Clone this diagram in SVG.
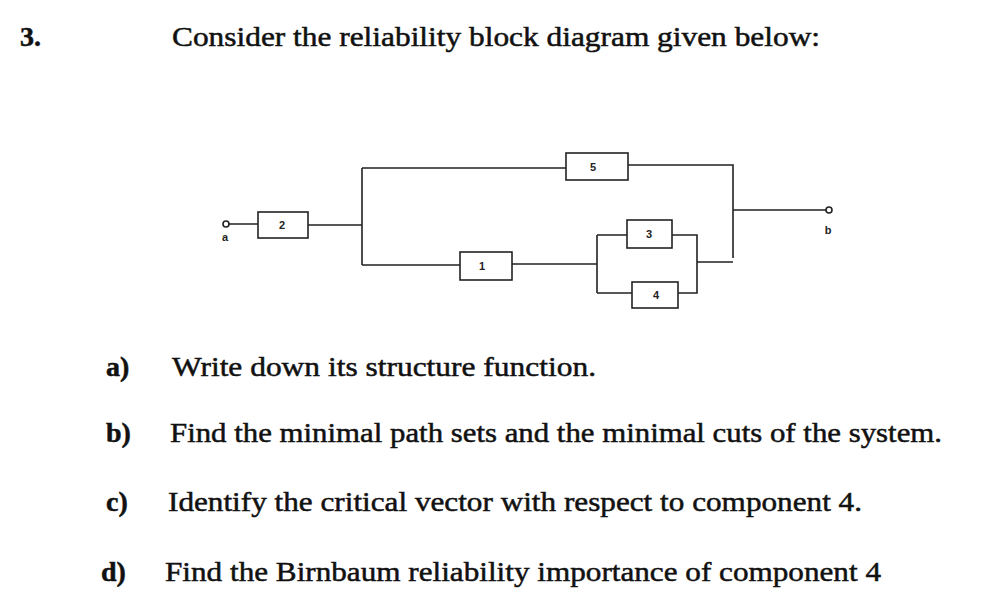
<svg xmlns="http://www.w3.org/2000/svg" width="988" height="608" viewBox="0 0 988 608">
<style>
.t{font-family:"Liberation Serif",serif;font-size:28px;fill:#111;stroke:#111;stroke-width:0.5}
.b{font-weight:bold}
.bx{fill:#fff;stroke:#222;stroke-width:1.6}
.w{fill:none;stroke:#222;stroke-width:1.6}
.n{font-family:"Liberation Sans",sans-serif;font-size:11px;font-weight:bold;text-anchor:middle;fill:#222}
</style>
<rect width="988" height="608" fill="#fff"/>
<text class="t b" x="20" y="46">3.</text>
<text class="t" x="172" y="46" textLength="648" lengthAdjust="spacingAndGlyphs">Consider the reliability block diagram given below:</text>
<g id="connectors">
<path class="w" d="M229 224H258 M308 225H362 M362 168V265 M362 168H566 M628 165H733V258 M733 210H826 M362 265H460 M512 264H597 M597 235V293 M597 235H627 M672 235H697V293H678 M597 293H632 M697 262H733"/>
</g>
<g id="a"><circle class="w" cx="226" cy="224" r="3"/><text class="n" x="225" y="241">a</text></g>
<g id="b"><circle class="w" cx="829" cy="210" r="3"/><text class="n" x="828" y="234">b</text></g>
<g id="n2"><rect class="bx" x="258" y="212" width="50" height="26"/><text class="n" x="282" y="229">2</text></g>
<g id="n5"><rect class="bx" x="566" y="153" width="62" height="27"/><text class="n" x="593" y="171">5</text></g>
<g id="n1"><rect class="bx" x="460" y="252" width="52" height="28"/><text class="n" x="482" y="270">1</text></g>
<g id="n3"><rect class="bx" x="627" y="220" width="45" height="28"/><text class="n" x="649" y="238">3</text></g>
<g id="n4"><rect class="bx" x="632" y="282" width="46" height="26"/><text class="n" x="656" y="299">4</text></g>
<text class="t b" x="106" y="376">a)</text>
<text class="t" x="172" y="376" textLength="424" lengthAdjust="spacingAndGlyphs">Write down its structure function.</text>
<text class="t b" x="106" y="442">b)</text>
<text class="t" x="170" y="442" textLength="772" lengthAdjust="spacingAndGlyphs">Find the minimal path sets and the minimal cuts of the system.</text>
<text class="t b" x="106" y="511">c)</text>
<text class="t" x="168" y="511" textLength="694" lengthAdjust="spacingAndGlyphs">Identify the critical vector with respect to component 4.</text>
<text class="t b" x="101" y="581">d)</text>
<text class="t" x="165" y="581" textLength="716" lengthAdjust="spacingAndGlyphs">Find the Birnbaum reliability importance of component 4</text>
</svg>
